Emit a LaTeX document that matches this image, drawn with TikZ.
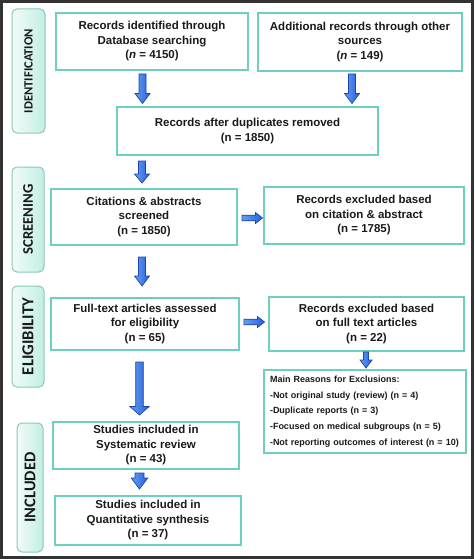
\documentclass[tikz,border=0pt]{standalone}
\usepackage{fontspec}
\setmainfont{Liberation Sans}
\newfontfamily\sidefont{Carlito}
\usetikzlibrary{calc}
\definecolor{boxline}{HTML}{6CCFBF}
\definecolor{sideline}{HTML}{8CC9BA}
\definecolor{sidefillL}{HTML}{F2FBF9}
\definecolor{sidefillR}{HTML}{C2EEE4}
\definecolor{arrL}{HTML}{62A0F6}
\definecolor{arrR}{HTML}{2A5FD6}
\definecolor{arrline}{HTML}{1E44A8}
\definecolor{frame}{HTML}{333333}
\definecolor{txt}{HTML}{1A1A1A}
\tikzset{
  flowbox/.style={draw=boxline, line width=1.3pt, fill=white, inner sep=2pt, align=center,
    text=txt, font=\fontsize{11.5}{14.5}\selectfont\bfseries},
  sidelabel/.style={draw=sideline, line width=1pt, rounded corners=5pt, left color=sidefillL, right color=sidefillR},
  sidetext/.style={rotate=90, text=txt, font=\sidefont\bfseries},
  blockarrow/.style={draw=arrline, line width=0.7pt, left color=arrL, right color=arrR, line join=miter},
}
% down arrow: #1 top coordinate, #2 tip coordinate, #3 shaft half width, #4 head half width, #5 head length
\newcommand\blkdown[5]{%
  \path[blockarrow] let \p1=(#1), \p2=(#2) in
    (\x1-#3pt,\y1) -- (\x1+#3pt,\y1) -- (\x1+#3pt,\y2+#5pt) -- (\x1+#4pt,\y2+#5pt) --
    (\x1,\y2) -- (\x1-#4pt,\y2+#5pt) -- (\x1-#3pt,\y2+#5pt) -- cycle;}
% right arrow
\newcommand\blkright[5]{%
  \path[blockarrow] let \p1=(#1), \p2=(#2) in
    (\x1,\y1+#3pt) -- (\x2-#5pt,\y1+#3pt) -- (\x2-#5pt,\y1+#4pt) --
    (\x2,\y1) -- (\x2-#5pt,\y1-#4pt) -- (\x2-#5pt,\y1-#3pt) -- (\x1,\y1-#3pt) -- cycle;}
\begin{document}
\begin{tikzpicture}[x=1pt,y=-1pt]
\useasboundingbox (0,0) rectangle (474,559);
\fill[white] (0,0) rectangle (474,559);
\draw[frame, line width=3pt] (1.5,1.5) rectangle (472.5,557.5);

% side labels
\node[sidelabel, minimum width=33pt, minimum height=124pt] (sid) at (28.5,71) {};
\node[sidetext, font=\sidefont\bfseries\fontsize{12.6}{14}\selectfont] (sidt) at (sid.center) {IDENTIFICATION};
\node[sidelabel, minimum width=32pt, minimum height=105pt] (ssc) at (28,219.5) {};
\node[sidetext, font=\sidefont\bfseries\fontsize{14.7}{16}\selectfont] (ssct) at (ssc.center) {SCREENING};
\node[sidelabel, minimum width=32pt, minimum height=101pt] (sel) at (28,336.5) {};
\node[sidetext, font=\sidefont\bfseries\fontsize{16.7}{18}\selectfont] (selt) at (sel.center) {ELIGIBILITY};
\node[sidelabel, minimum width=26pt, minimum height=129pt] (sin) at (30,487.5) {};
\node[sidetext, font=\sidefont\bfseries\fontsize{16.4}{18}\selectfont] (sint) at (sin.center) {INCLUDED};

% boxes
\node[flowbox, minimum width=192pt, minimum height=57pt] (id1) at (152,41.5)
  {Records identified through\\Database searching\\(\textit{n} = 4150)};
\node[flowbox, minimum width=204pt, minimum height=58pt] (id2) at (360,42)
  {Additional records through other\\sources\\(\textit{n} = 149)};
\node[flowbox, minimum width=261pt, minimum height=48pt] (dup) at (247.5,131)
  {Records after duplicates removed\\(n = 1850)};
\node[flowbox, minimum width=186pt, minimum height=56pt] (scr) at (144,217)
  {Citations \& abstracts\\screened\\(n = 1850)};
\node[flowbox, minimum width=200pt, minimum height=57pt] (exa) at (364,215.5)
  {Records excluded based\\on citation \& abstract\\(n = 1785)};
\node[flowbox, minimum width=188pt, minimum height=52pt] (ful) at (145,324)
  {Full-text articles assessed\\for eligibility\\(n = 65)};
\node[flowbox, minimum width=195pt, minimum height=54pt] (exf) at (366.5,324)
  {Records excluded based\\on full text articles\\(n = 22)};
\node[flowbox, minimum width=202pt, minimum height=83pt, align=left, text width=190pt,
  inner sep=4pt, font=\fontsize{9}{15.6}\selectfont\bfseries] (rsn) at (365,411.5)
  {Main Reasons for Exclusions:\\
   -Not original study (review) (n = 4)\\
   -Duplicate reports (n = 3)\\
   -Focused on medical subgroups (n = 5)\\
   -Not reporting outcomes of interest (n = 10)};
\node[flowbox, minimum width=186pt, minimum height=47pt] (sys) at (146,445.5)
  {Studies included in\\Systematic review\\(n = 43)};
\node[flowbox, minimum width=186pt, minimum height=49pt] (qua) at (148,520.5)
  {Studies included in\\Quantitative synthesis\\(n = 37)};

% arrow end points
\coordinate (a1s) at (142.5,74);  \coordinate (a1e) at (142.5,103.5);
\coordinate (a2s) at (352,74);    \coordinate (a2e) at (352,103.5);
\coordinate (a3s) at (142,161);   \coordinate (a3e) at (142,183);
\coordinate (a4s) at (142,257);   \coordinate (a4e) at (142,286);
\coordinate (a5s) at (242,218);   \coordinate (a5e) at (262.5,218);
\coordinate (a6s) at (244,322);   \coordinate (a6e) at (264.5,322);
\coordinate (a7s) at (366,352);   \coordinate (a7e) at (366,368);
\coordinate (a8s) at (139.5,362); \coordinate (a8e) at (139.5,415);
\coordinate (a9s) at (139.5,473); \coordinate (a9e) at (139.5,489);

\blkdown{a1s}{a1e}{3.5}{7.5}{10}
\blkdown{a2s}{a2e}{3.5}{7.5}{10}
\blkdown{a3s}{a3e}{3.5}{7.5}{9}
\blkdown{a4s}{a4e}{3.5}{7.5}{10}
\blkright{a5s}{a5e}{2.8}{5.5}{7}
\blkright{a6s}{a6e}{2.8}{5.5}{7}
\blkdown{a7s}{a7e}{2.5}{6}{8}
\blkdown{a8s}{a8e}{3.8}{9.7}{8.5}
\blkdown{a9s}{a9e}{4.5}{8.3}{11}
\end{tikzpicture}
\end{document}
